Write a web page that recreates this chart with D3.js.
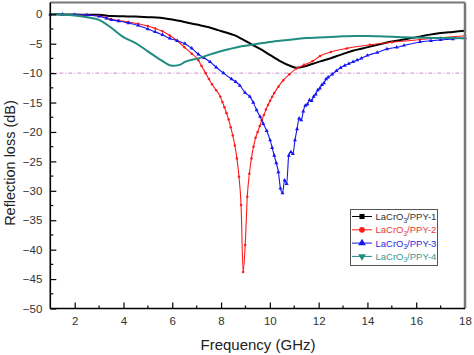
<!DOCTYPE html>
<html><head><meta charset="utf-8">
<script src="https://cdn.jsdelivr.net/npm/d3@7"></script>
<style>body{margin:0;background:#fff}svg{display:block;font-family:"Liberation Sans",Arial,sans-serif}</style>
</head><body><svg id="c" width="474" height="355"></svg>
<script>
const xTicks = [2,4,6,8,10,12,14,16,18];
const yTicks = [0,-5,-10,-15,-20,-25,-30,-35,-40,-45,-50];
const seriesNames = ["PPY-1","PPY-2","PPY-3","PPY-4"];

const freq1 = [1,1.5,2,2.5,3,3.5,4,4.5,5,5.5,6,6.5,7,7.5,7.88,8.2,8.57,8.9,9.25,9.6,10,10.4,10.8,11.1,11.4,11.7,12.06,12.4,12.75,13.1,13.4,13.75,14.1,14.5,14.8,15.2,15.5,15.8,16.15,16.5,17,17.5,18];
const rl1   = [0,-0.02,-0.05,-0.08,-0.1,-0.3,-0.35,-0.4,-0.5,-0.6,-0.9,-1.3,-1.75,-2.2,-2.7,-3.1,-3.6,-4.3,-5.1,-5.9,-6.9,-7.9,-8.7,-9.1,-8.9,-8.5,-8.0,-7.6,-7.1,-6.6,-6.2,-5.85,-5.5,-5.1,-4.8,-4.5,-4.3,-4.05,-3.8,-3.5,-3.2,-3.0,-2.8];

const freq2 = [1,1.5,2,2.5,3,3.3,3.5,3.8,4.2,4.6,5,5.3,5.6,5.9,6.2,6.5,6.8,7.07,7.2,7.37,7.5,7.63,7.8,7.97,8.055,8.14,8.225,8.31,8.395,8.48,8.565,8.65,8.735,8.82,8.905,8.99,9.075,9.16,9.245,9.33,9.415,9.5,9.585,9.67,9.755,9.84,9.925,10.01,10.095,10.18,10.35,10.55,10.8,11.1,11.4,11.75,12.06,12.5,13.16,14.1,15,16.15,17,18];
const rl2   = [0,-0.03,-0.08,-0.12,-0.3,-0.6,-0.85,-1.05,-1.3,-1.6,-2.0,-2.4,-2.9,-3.6,-4.5,-5.6,-6.7,-7.8,-8.8,-10.0,-11.0,-11.9,-12.9,-14.0,-14.9,-15.8,-16.8,-17.9,-19.2,-20.6,-22.3,-24.5,-27.6,-32.4,-43.8,-39.2,-31.0,-27.1,-24.5,-22.5,-21.0,-20.0,-19.0,-18.0,-17.1,-16.2,-15.4,-14.7,-14.0,-13.4,-12.3,-11.2,-10.2,-9.2,-8.6,-8.0,-7.1,-6.4,-5.8,-5.2,-4.75,-4.3,-4.0,-3.65];

const freq3 = [1,1.5,2,2.5,3,3.3,3.5,3.8,4.2,4.6,5,5.3,5.6,5.9,6.2,6.52,6.8,7.07,7.3,7.55,7.8,8.1,8.43,8.6,8.77,8.98,9.18,9.32,9.46,9.6,9.73,9.87,10.01,10.095,10.18,10.265,10.35,10.435,10.52,10.605,10.69,10.775,10.86,10.945,11.03,11.115,11.2,11.285,11.37,11.455,11.54,11.625,11.71,11.795,11.88,11.965,12.05,12.135,12.22,12.305,12.39,12.56,12.73,12.9,13.07,13.24,13.41,13.58,13.75,14,14.4,14.8,15.2,15.5,16.15,16.6,17,17.5,18];
const rl3   = [0,-0.03,-0.08,-0.15,-0.35,-0.7,-0.95,-1.15,-1.5,-1.9,-2.5,-3.0,-3.5,-4.1,-4.5,-5.0,-5.8,-6.8,-7.4,-8.1,-9.0,-10.0,-11.0,-11.5,-12.1,-13.3,-14.0,-15.0,-16.3,-17.4,-18.6,-19.8,-21.4,-22.7,-24.0,-25.3,-26.8,-29.6,-30.4,-28.2,-28.8,-24.0,-23.4,-23.7,-21.4,-19.5,-17.7,-18.0,-16.5,-15.5,-15.3,-14.6,-14.7,-14.0,-13.6,-12.9,-12.6,-12.0,-11.7,-11.0,-10.7,-10.2,-9.6,-9.1,-8.7,-8.4,-8.1,-7.8,-7.5,-7.0,-6.5,-5.9,-5.6,-5.3,-4.7,-4.5,-4.35,-4.2,-4.0];

const freq4 = [1,1.5,2,2.5,3,3.5,4,4.5,5,5.5,6,6.3,6.52,7.07,7.5,7.88,8.3,8.7,9,9.39,9.7,10,10.5,11,11.5,12,12.5,13,13.5,14,14.5,15,15.5,16,16.5,17,17.5,18];
const rl4   = [0,-0.05,-0.2,-0.5,-0.95,-2.3,-3.9,-4.9,-6.3,-7.7,-8.75,-8.6,-8.1,-7.5,-6.9,-6.4,-5.95,-5.55,-5.35,-5.1,-4.9,-4.7,-4.45,-4.25,-4.05,-3.95,-3.85,-3.75,-3.7,-3.7,-3.75,-3.8,-3.9,-3.95,-4.0,-4.05,-4.05,-4.1];

const series = [
  {name: seriesNames[0], f: freq1, v: rl1, color: "#000000", text: "#333333", sym: d3.symbolSquare, lw: 2, mk: false},
  {name: seriesNames[1], f: freq2, v: rl2, color: "#ff1a1a", text: "#e83a3a", sym: d3.symbolCircle, lw: 1.1, mk: true},
  {name: seriesNames[2], f: freq3, v: rl3, color: "#1515f0", text: "#2b2bd8", sym: d3.symbolTriangle, lw: 1.1, mk: true},
  {name: seriesNames[3], f: freq4, v: rl4, color: "#1f8c80", text: "#3a9a90", sym: d3.symbolTriangle, rot: 180, lw: 2, mk: false}
];

const svg = d3.select("#c");
const L = 50.3, R = 465, T = 2.5, B = 308.5;
const x = d3.scaleLinear().domain([1,18]).range([L,R]);
const y = d3.scaleLinear().domain([-50,2]).range([B,T]);

// -10 dB reference line
svg.append("line").attr("x1",L).attr("x2",R).attr("y1",y(-10)).attr("y2",y(-10))
  .attr("stroke","#cc88cc").attr("stroke-width",1).attr("stroke-dasharray","4,2,1,2");

const line = d3.line().curve(d3.curveMonotoneX).x(d=>x(d[0])).y(d=>y(d[1]));
series.forEach(s=>{
  const pts = s.f.map((f,i)=>[f,s.v[i]]);
  svg.append("path").datum(pts).attr("d",line).attr("fill","none")
    .attr("stroke",s.color).attr("stroke-width",s.lw).attr("stroke-linejoin","round");
  if (s.mk) {
    svg.append("g").selectAll("path").data(pts).join("path")
      .attr("d", d3.symbol().type(s.sym).size(s.sym===d3.symbolCircle?5:7))
      .attr("transform", d=>`translate(${x(d[0])},${y(d[1])})`)
      .attr("fill", s.color);
  }
});

// frame
svg.append("line").attr("x1",L).attr("x2",R).attr("y1",T).attr("y2",T).attr("stroke","#777").attr("stroke-width",2);
svg.append("line").attr("x1",R).attr("x2",R).attr("y1",T).attr("y2",B).attr("stroke","#777").attr("stroke-width",2.5);

// axes (inward ticks)
const xMinor = d3.range(3,18,2);
const gx = svg.append("g").attr("transform",`translate(0,${B})`);
gx.call(d3.axisBottom(x).tickValues(xTicks).tickSize(-6).tickPadding(8).tickFormat(d3.format("d")));
gx.selectAll(".tick").filter(d=>d===18).select("line").remove();
xMinor.forEach(v=>{ gx.append("line").attr("x1",x(v)).attr("x2",x(v)).attr("y1",0).attr("y2",-3).attr("stroke","#000").attr("stroke-width",1.2); });
gx.selectAll(".tick line").attr("stroke","#000").attr("stroke-width",1.2);
gx.selectAll("text").attr("font-size","11.5px").attr("fill","#333").attr("font-family","Liberation Sans, Arial, sans-serif");
gx.select(".domain").attr("stroke","#000").attr("stroke-width",1.6).attr("d",`M${L},0H${R}`);

const gy = svg.append("g").attr("transform",`translate(${L},0)`);
gy.call(d3.axisLeft(y).tickValues(yTicks).tickSize(-6).tickPadding(8).tickFormat(d3.format("d")));
gy.selectAll(".tick line").attr("stroke","#000").attr("stroke-width",1.2);
d3.range(-47.5,0,5).forEach(v=>{ gy.append("line").attr("x1",0).attr("x2",3).attr("y1",y(v)).attr("y2",y(v)).attr("stroke","#000").attr("stroke-width",1.2); });
gy.selectAll("text").attr("font-size","11.5px").attr("fill","#333").attr("font-family","Liberation Sans, Arial, sans-serif");
gy.select(".domain").attr("stroke","#000").attr("stroke-width",1.6).attr("d",`M0,${T}V${B}`);

// titles
svg.append("text").attr("x",258).attr("y",350).attr("text-anchor","middle")
  .attr("font-size","15px").attr("fill","#222").text("Frequency (GHz)");
svg.append("text").attr("transform",`translate(15,163) rotate(-90)`).attr("text-anchor","middle")
  .attr("font-size","14.5px").attr("fill","#222").text("Reflection loss (dB)");

// legend
const lg = svg.append("g");
lg.append("rect").attr("x",350.5).attr("y",209.5).attr("width",87).attr("height",56)
  .attr("fill","#fff").attr("stroke","#555").attr("stroke-width",1);
series.forEach((s,i)=>{
  const cy = 216.5 + i*13.3;
  lg.append("line").attr("x1",352).attr("x2",372).attr("y1",cy).attr("y2",cy).attr("stroke",s.color).attr("stroke-width",1);
  lg.append("path").attr("d",d3.symbol().type(s.sym).size(26))
    .attr("transform",`translate(362,${cy})${s.rot?` rotate(${s.rot})`:""}`).attr("fill",s.color);
  const t = lg.append("text").attr("x",375.5).attr("y",cy+3.5).attr("font-size","9.5px").attr("fill",s.text);
  t.append("tspan").text("LaCrO");
  t.append("tspan").attr("font-size","6.5px").attr("dy",2.5).text("3");
  t.append("tspan").attr("dy",-2.5).text("/" + s.name);
});
</script></body></html>
